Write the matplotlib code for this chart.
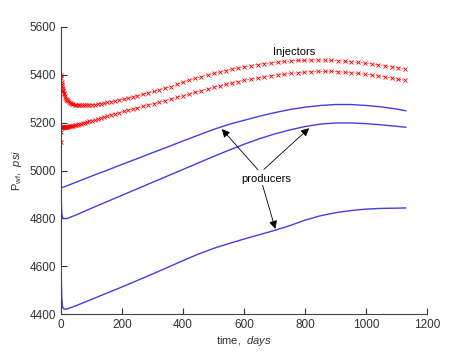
'''
bottom-hole pressure vs time for injectors and producers.
'''
import matplotlib
matplotlib.use('Agg')
import matplotlib.pyplot as plt

plt.rcParams['font.family'] = ['Liberation Sans', 'DejaVu Sans']
plt.rcParams['mathtext.fontset'] = 'custom'
plt.rcParams['mathtext.rm'] = 'Liberation Sans'
plt.rcParams['mathtext.it'] = 'Liberation Sans:italic'

# injector data (days, psi)
t_inj = [0, 1, 2, 3, 4, 5, 6, 7, 8, 10, 12, 14, 16, 18, 20, 23, 26, 29, 32, 36, 40,
         45, 50, 55, 60, 66, 72, 78, 85, 92, 100, 110, 120, 130, 140, 152, 164, 176,
         190, 205, 220, 235, 250, 268, 286, 304, 322, 340, 360, 380, 400, 420, 440,
         460, 480, 500, 520, 540, 560, 580, 600, 622, 644, 666, 688, 710, 732, 754,
         776, 798, 820, 842, 864, 886, 908, 930, 952, 974, 996, 1018, 1040, 1062,
         1084, 1106, 1128]
inj_upper = [5400, 5385, 5372, 5362, 5352, 5344, 5337, 5331, 5326, 5318, 5311, 5305,
             5300, 5296, 5293, 5289, 5286, 5283, 5281, 5279, 5277, 5276, 5275, 5274,
             5274, 5273, 5273, 5273, 5274, 5274, 5275, 5276, 5278, 5280, 5282, 5285,
             5288, 5291, 5295, 5299, 5303, 5308, 5313, 5319, 5325, 5331, 5337, 5344,
             5351, 5360, 5370, 5378, 5386, 5393, 5400, 5406, 5412, 5418, 5424, 5429,
             5434, 5439, 5443, 5447, 5450, 5453, 5456, 5458, 5460, 5461, 5462, 5462,
             5462, 5461, 5459, 5457, 5455, 5452, 5449, 5446, 5442, 5438, 5434, 5430,
             5426]
inj_lower = [5120, 5160, 5176, 5181, 5182, 5183, 5183, 5183, 5183, 5183, 5183, 5183,
             5183, 5184, 5184, 5184, 5185, 5185, 5186, 5187, 5188, 5189, 5191, 5192,
             5194, 5196, 5198, 5200, 5203, 5206, 5209, 5213, 5217, 5221, 5225, 5229,
             5233, 5237, 5242, 5247, 5252, 5257, 5262, 5268, 5274, 5280, 5286, 5292,
             5299, 5306, 5313, 5320, 5327, 5334, 5341, 5348, 5354, 5360, 5366, 5372,
             5377, 5382, 5387, 5392, 5396, 5400, 5403, 5406, 5409, 5411, 5413, 5414,
             5414, 5414, 5413, 5411, 5409, 5406, 5403, 5400, 5396, 5392, 5387, 5382,
             5377]

# producer data (days, psi)
t_prod = [0, 2, 5, 10, 20, 50, 100, 150, 200, 250, 300, 350, 400, 450, 500, 550,
          600, 650, 700, 750, 800, 850, 900, 950, 1000, 1050, 1100, 1130]
prod_1 = [4928, 4929, 4930, 4932, 4937, 4952, 4977, 5001, 5026, 5050, 5075, 5099,
          5124, 5148, 5172, 5193, 5210, 5227, 5242, 5255, 5265, 5272, 5276, 5276,
          5272, 5266, 5257, 5250]
prod_2 = [4885, 4820, 4802, 4799, 4800, 4815, 4843, 4870, 4897, 4924, 4951, 4978,
          5005, 5032, 5059, 5085, 5110, 5133, 5153, 5170, 5184, 5194, 5199, 5199,
          5196, 5191, 5185, 5181]
prod_3 = [4570, 4470, 4428, 4421, 4422, 4436, 4462, 4488, 4514, 4541, 4568, 4596,
          4624, 4651, 4675, 4695, 4714, 4732, 4750, 4770, 4793, 4811, 4824, 4833,
          4839, 4842, 4843, 4844]

fig = plt.figure(figsize=(4.74, 3.55), dpi=100)
ax = fig.add_axes([0.129, 0.115, 0.772, 0.809])

blue = '#4040e0'
for p in (prod_1, prod_2, prod_3):
    ax.plot(t_prod, p, color=blue, lw=1.0)
for inj in (inj_upper, inj_lower):
    ax.plot(t_inj, inj, color='red', ls='--', lw=0.4, marker='x',
            markersize=2.5, markeredgewidth=0.6)

ax.set_xlim(0, 1200)
ax.set_ylim(4400, 5600)
ax.set_xticks(range(0, 1201, 200))
ax.set_yticks(range(4400, 5601, 200))
ax.tick_params(direction='in', length=4, labelsize=8.5, colors='#333333',
               top=False, right=False)
for s in ('top', 'right'):
    ax.spines[s].set_visible(False)
for s in ('left', 'bottom'):
    ax.spines[s].set_color('#444444')

ax.set_xlabel(r'time,  $\it{days}$', fontsize=8, color='#333333', labelpad=2)
ax.set_ylabel(r'P$_{\rm wf}$,  $\it{psi}$', fontsize=8, color='#333333', labelpad=4)

ax.text(764, 5495, 'Injectors', fontsize=8, ha='center', va='center')
ax.text(674, 4964, 'producers', fontsize=8, ha='center', va='center')

arr = dict(arrowstyle='-|>', color='black', lw=0.6, mutation_scale=12)
ax.annotate('', xy=(521, 5182), xytext=(652, 4994), arrowprops=arr)
ax.annotate('', xy=(820, 5185), xytext=(658, 4997), arrowprops=arr)
ax.annotate('', xy=(705, 4745), xytext=(658, 4950), arrowprops=arr)

plt.savefig('out.png', dpi=100)
